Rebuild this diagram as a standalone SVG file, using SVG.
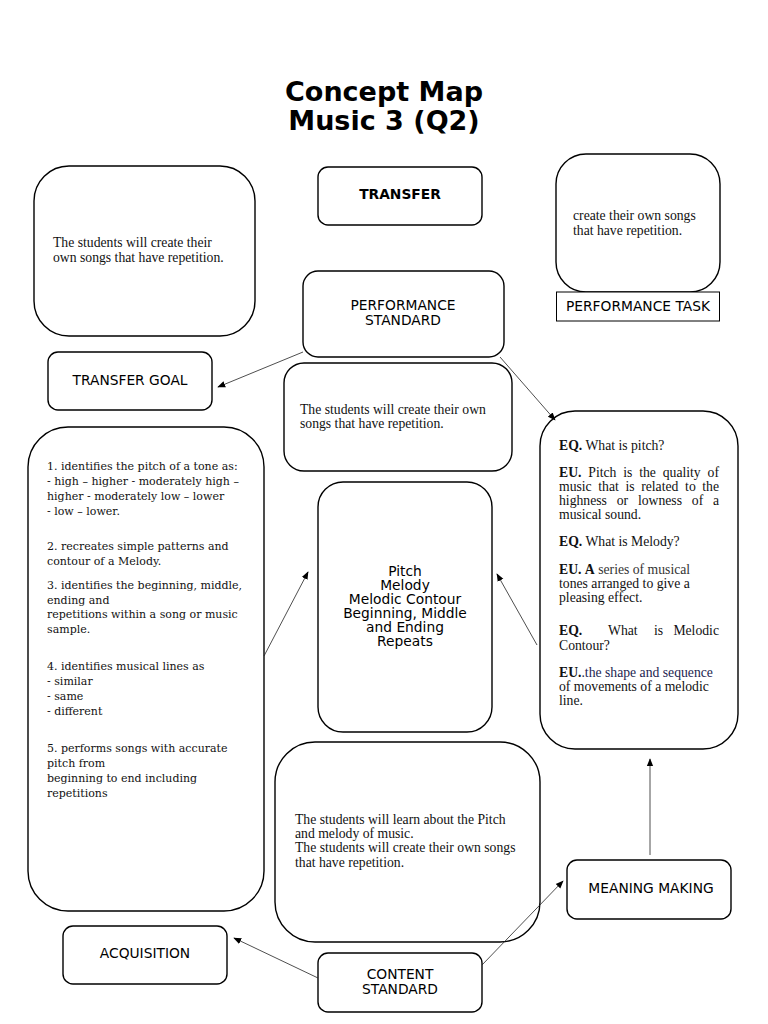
<svg xmlns="http://www.w3.org/2000/svg" width="768" height="1024" viewBox="0 0 768 1024">
<defs>
<style>
.box{fill:#fff;stroke:#000;stroke-width:1.4}
.lbl{font-family:"DejaVu Sans",Verdana,sans-serif;font-size:13.8px;fill:#000;text-anchor:middle}
.ser{font-family:"Liberation Serif","Times New Roman",serif;font-size:13.7px;fill:#111}
.dser{font-family:"DejaVu Serif",serif;font-size:11px;fill:#111}
.b{font-weight:bold}
.e{text-anchor:end}
.con{stroke:#222;stroke-width:0.8;fill:none;marker-end:url(#ah)}
</style>
<marker id="ah" viewBox="0 0 10 10" refX="9" refY="5" markerWidth="8" markerHeight="8" markerUnits="userSpaceOnUse" orient="auto">
<path d="M0,1 L10,5 L0,9 Z" fill="#000"/>
</marker>
</defs>
<rect width="768" height="1024" fill="#fff"/>
<g id="title">
<text x="384" y="101" text-anchor="middle" font-family="DejaVu Sans,sans-serif" font-weight="bold" font-size="27">Concept Map</text>
<text x="384" y="130" text-anchor="middle" font-family="DejaVu Sans,sans-serif" font-weight="bold" font-size="27">Music 3 (Q2)</text>
</g>
<g id="transfer-goal-text">
<rect class="box" x="34" y="166" width="221" height="170" rx="35"/>
<text class="ser" x="53" y="247">The students will create their</text>
<text class="ser" x="53" y="262">own songs that have repetition.</text>
</g>
<g id="transfer">
<rect class="box" x="318" y="167" width="164" height="58" rx="10"/>
<text class="lbl b" x="400" y="199">TRANSFER</text>
</g>
<g id="performance-task-text">
<rect class="box" x="556" y="154" width="164" height="138" rx="30"/>
<text class="ser" x="573" y="220">create their own songs</text>
<text class="ser" x="573" y="235">that have repetition.</text>
</g>
<g id="performance-task">
<rect x="556.5" y="292" width="163" height="29" fill="#fff" stroke="#000" stroke-width="1"/>
<text class="lbl" x="638" y="311">PERFORMANCE TASK</text>
</g>
<g id="performance-standard">
<rect class="box" x="303" y="271" width="201" height="86" rx="15"/>
<text class="lbl" x="403" y="310">PERFORMANCE</text>
<text class="lbl" x="403" y="325">STANDARD</text>
</g>
<g id="transfer-goal">
<rect class="box" x="48" y="352" width="164" height="58" rx="10"/>
<text class="lbl" x="130" y="385">TRANSFER GOAL</text>
</g>
<g id="performance-standard-text">
<rect class="box" x="284" y="363" width="228" height="108" rx="20"/>
<text class="ser" x="300" y="414">The students will create their own</text>
<text class="ser" x="300" y="428">songs that have repetition.</text>
</g>
<g id="competencies">
<rect class="box" x="28" y="427" width="236" height="484" rx="40"/>
<text class="dser" x="47" y="470">1. identifies the pitch of a tone as:</text>
<text class="dser" x="47" y="485">- high – higher - moderately high –</text>
<text class="dser" x="47" y="500">higher - moderately low – lower</text>
<text class="dser" x="47" y="515">- low – lower.</text>
<text class="dser" x="47" y="550">2. recreates simple patterns and</text>
<text class="dser" x="47" y="565">contour of a Melody.</text>
<text class="dser" x="47" y="589">3. identifies the beginning, middle,</text>
<text class="dser" x="47" y="604">ending and</text>
<text class="dser" x="47" y="618">repetitions within a song or music</text>
<text class="dser" x="47" y="633">sample.</text>
<text class="dser" x="47" y="670">4. identifies musical lines as</text>
<text class="dser" x="47" y="685">- similar</text>
<text class="dser" x="47" y="700">- same</text>
<text class="dser" x="47" y="715">- different</text>
<text class="dser" x="47" y="752">5. performs songs with accurate</text>
<text class="dser" x="47" y="767">pitch from</text>
<text class="dser" x="47" y="782">beginning to end including</text>
<text class="dser" x="47" y="797">repetitions</text>
</g>
<g id="concepts">
<rect class="box" x="318" y="482" width="174" height="250" rx="25"/>
<text class="lbl" x="405" y="576">Pitch</text>
<text class="lbl" x="405" y="590">Melody</text>
<text class="lbl" x="405" y="604">Melodic Contour</text>
<text class="lbl" x="405" y="618">Beginning, Middle</text>
<text class="lbl" x="405" y="632">and Ending</text>
<text class="lbl" x="405" y="646">Repeats</text>
</g>
<g id="eq-eu">
<rect class="box" x="540" y="411" width="198" height="338" rx="35"/>
<text class="ser" x="559" y="450"><tspan class="b">EQ.</tspan> What is pitch?</text>
<text class="ser" y="477"><tspan class="b" x="559">EU.</tspan><tspan x="588.3">Pitch</tspan><tspan x="623.3">is</tspan><tspan x="639.2">the</tspan><tspan x="662.7">quality</tspan></text>
<text class="ser e" x="719" y="477">of</text>
<text class="ser" y="491"><tspan x="559">music</tspan><tspan x="598.3">that</tspan><tspan x="625.5">is</tspan><tspan x="641.2">related</tspan><tspan x="685.1">to</tspan></text>
<text class="ser e" x="719" y="491">the</text>
<text class="ser" y="505"><tspan x="559">highness</tspan><tspan x="616.7">or</tspan><tspan x="637.9">lowness</tspan><tspan x="691.8">of</tspan></text>
<text class="ser e" x="719" y="505">a</text>
<text class="ser" x="559" y="519">musical sound.</text>
<text class="ser" x="559" y="546"><tspan class="b">EQ.</tspan> What is Melody?</text>
<text class="ser" x="559" y="574"><tspan class="b">EU.</tspan> <tspan class="b">A</tspan><tspan fill="#333"> series of musical</tspan></text>
<text class="ser" x="559" y="588" fill="#333">tones arranged to give a</text>
<text class="ser" x="559" y="602" fill="#333">pleasing effect.</text>
<text class="ser" y="635"><tspan class="b" x="559">EQ.</tspan><tspan x="608">What</tspan><tspan x="654">is</tspan></text>
<text class="ser e" x="719" y="635">Melodic</text>
<text class="ser" x="559" y="650">Contour?</text>
<text class="ser" x="559" y="677"><tspan class="b">EU.</tspan><tspan fill="#1c2450">.the shape and sequence</tspan></text>
<text class="ser" x="559" y="691" fill="#1c2450">of movements of a melodic</text>
<text class="ser" x="559" y="705" fill="#1c2450">line.</text>
</g>
<g id="content-standard-text">
<rect class="box" x="275" y="742" width="265" height="200" rx="40"/>
<text class="ser" x="295" y="824">The students will learn about the Pitch</text>
<text class="ser" x="295" y="838">and melody of music.</text>
<text class="ser" x="295" y="852">The students will create their own songs</text>
<text class="ser" x="295" y="867">that have repetition.</text>
</g>
<g id="meaning-making">
<rect class="box" x="567" y="860" width="164" height="59" rx="10"/>
<text class="lbl" x="651" y="893">MEANING MAKING</text>
</g>
<g id="acquisition">
<rect class="box" x="63" y="926" width="164" height="58" rx="10"/>
<text class="lbl" x="145" y="958">ACQUISITION</text>
</g>
<g id="content-standard">
<rect class="box" x="318" y="953" width="164" height="59" rx="10"/>
<text class="lbl" x="400" y="979">CONTENT</text>
<text class="lbl" x="400" y="994">STANDARD</text>
</g>
<g id="connectors">
<line class="con" x1="303" y1="352" x2="218" y2="387"/>
<line class="con" x1="500" y1="357" x2="555" y2="420"/>
<line class="con" x1="264" y1="656" x2="308" y2="572"/>
<line class="con" x1="537" y1="645" x2="497" y2="574"/>
<line class="con" x1="650" y1="855" x2="650" y2="759"/>
<line class="con" x1="318" y1="978" x2="234" y2="938"/>
<line class="con" x1="482" y1="965" x2="563" y2="881"/>
</g>
</svg>
